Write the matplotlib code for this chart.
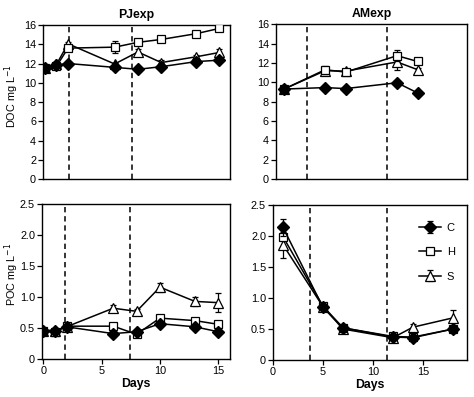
import numpy as np
import matplotlib.pyplot as plt

plt.rcParams['font.family'] = ['Liberation Sans', 'DejaVu Sans']
plt.rcParams['font.size'] = 7.5

# PJexp days and values
pj_days = [0, 1, 2, 6, 8, 10, 13, 15]
pj_doc_c = [11.5, 11.85, 12.0, 11.6, 11.4, 11.67, 12.2, 12.35]
pj_doc_h = [11.5, 11.7, 13.6, 13.7, 14.2, 14.5, 15.1, 15.65]
pj_doc_s = [11.5, 11.9, 14.05, 11.95, 13.2, 12.1, 12.7, 13.15]
pj_doc_h_err = [0.1, 0.1, 0.2, 0.6, 0.3, 0.25, 0.15, 0.2]
pj_doc_s_err = [0.1, 0.1, 0.2, 0.1, 0.3, 0.25, 0.15, 0.35]

pj_poc_c = [0.46, 0.46, 0.52, 0.41, 0.44, 0.57, 0.52, 0.44]
pj_poc_h = [0.46, 0.43, 0.53, 0.53, 0.40, 0.66, 0.62, 0.56]
pj_poc_s = [0.46, 0.46, 0.52, 0.82, 0.77, 1.16, 0.93, 0.91]
pj_poc_c_err = [0.02, 0.02, 0.03, 0.02, 0.03, 0.04, 0.03, 0.03]
pj_poc_s_err = [0.02, 0.02, 0.03, 0.05, 0.04, 0.07, 0.07, 0.15]

# AMexp days and values
am_doc_days = [1, 5, 7, 12, 14]
am_doc_c = [9.3, 9.45, 9.35, 9.95, 8.9]
am_doc_h = [9.3, 11.3, 11.05, 12.75, 12.15]
am_doc_s = [9.3, 11.2, 11.15, 12.1, 11.3]
am_doc_h_err = [0.1, 0.4, 0.2, 0.6, 0.2]
am_doc_s_err = [0.1, 0.3, 0.2, 0.8, 0.2]

am_poc_days = [1, 5, 7, 12, 14, 18]
am_poc_c = [2.14, 0.85, 0.52, 0.37, 0.36, 0.50]
am_poc_h = [1.99, 0.87, 0.52, 0.38, 0.37, 0.50]
am_poc_s = [1.86, 0.86, 0.50, 0.36, 0.53, 0.68]
am_poc_c_err = [0.13, 0.05, 0.03, 0.03, 0.03, 0.05]
am_poc_s_err = [0.21, 0.05, 0.03, 0.03, 0.05, 0.13]

fig = plt.figure(figsize=(4.74, 3.97), dpi=100)
ax1 = fig.add_axes([0.0907, 0.549, 0.3945, 0.388])
ax2 = fig.add_axes([0.582, 0.549, 0.403, 0.390])
ax3 = fig.add_axes([0.0886, 0.0957, 0.3966, 0.390])
ax4 = fig.add_axes([0.576, 0.0932, 0.409, 0.390])


def draw(ax, days, c, h, s, c_err=None, h_err=None, s_err=None):
    kw = dict(color='black', lw=1.1, capsize=2.5, elinewidth=0.9, capthick=0.9)
    ax.errorbar(days, s, yerr=s_err, marker='^', ms=6.5, mfc='white', mec='black',
                mew=0.9, label='S', zorder=3, **kw)
    ax.errorbar(days, h, yerr=h_err, marker='s', ms=6, mfc='white', mec='black',
                mew=0.9, label='H', zorder=4, **kw)
    ax.errorbar(days, c, yerr=c_err, marker='D', ms=6.5, mfc='black', mec='black',
                label='C', zorder=5, **kw)
    for sp in ax.spines.values():
        sp.set_linewidth(1.0)
    ax.tick_params(direction='out', length=3.5, width=0.9, labelsize=7.8, pad=1.5)


draw(ax1, pj_days, pj_doc_c, pj_doc_h, pj_doc_s, None, pj_doc_h_err, pj_doc_s_err)
draw(ax2, am_doc_days, am_doc_c, am_doc_h, am_doc_s, None, am_doc_h_err, am_doc_s_err)
draw(ax3, pj_days, pj_poc_c, pj_poc_h, pj_poc_s, pj_poc_c_err, None, pj_poc_s_err)
draw(ax4, am_poc_days, am_poc_c, am_poc_h, am_poc_s, am_poc_c_err, None, am_poc_s_err)

# treatment change days (dashed)
for ax, xs in [(ax1, [2.05, 7.5]), (ax2, [3.25, 11.0]), (ax3, [1.9, 7.45]), (ax4, [3.7, 11.4])]:
    for x in xs:
        ax.axvline(x, color='black', ls=(0, (3.5, 2.5)), lw=1.1, zorder=1)

ax1.set_xlim(-0.15, 15.9)
ax2.set_xlim(0.2, 18.8)
ax3.set_xlim(-0.1, 16)
ax4.set_xlim(0, 19.4)
for ax in (ax1, ax2):
    ax.set_ylim(0, 16)
    ax.set_yticks(np.arange(0, 17, 2))
    ax.set_xticks([])
for ax in (ax3, ax4):
    ax.set_ylim(0, 2.5)
    ax.set_yticks([0, 0.5, 1.0, 1.5, 2.0, 2.5])
    ax.set_yticklabels(['0', '0.5', '1.0', '1.5', '2.0', '2.5'])
    ax.set_xticks([0, 5, 10, 15])
    ax.set_xlabel('Days', fontweight='bold', fontsize=8.8, labelpad=1.5)

ax1.set_title('PJexp', fontweight='bold', fontsize=8.8, pad=5)
ax2.set_title('AMexp', fontweight='bold', fontsize=8.8, pad=5)
ax1.set_ylabel('DOC mg L$^{-1}$', fontsize=7.8)
ax3.set_ylabel('POC mg L$^{-1}$', fontsize=7.8)
ax1.yaxis.set_label_coords(-0.118, 0.536)
ax3.yaxis.set_label_coords(-0.112, 0.55)

handles, labels = ax4.get_legend_handles_labels()
order = [2, 1, 0]
ax4.legend([handles[i] for i in order], [labels[i] for i in order], loc='upper right',
           frameon=False, fontsize=8, handlelength=2.0, labelspacing=1.3,
           handletextpad=0.5, bbox_to_anchor=(0.99, 0.95))

fig.savefig('out.png', dpi=100)
